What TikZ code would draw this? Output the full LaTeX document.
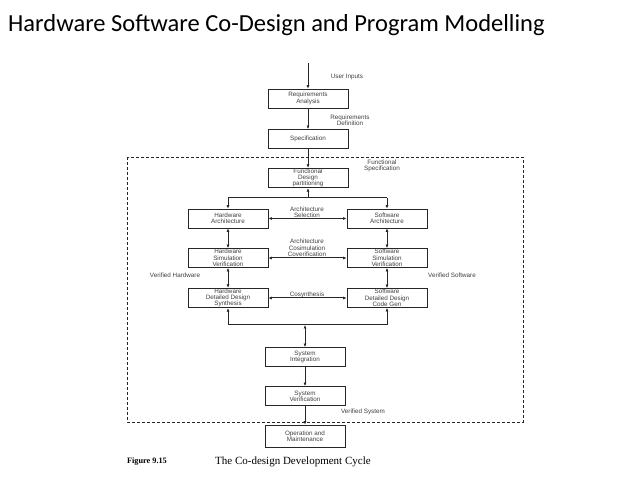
\documentclass[tikz,border=0pt]{standalone}
\usepackage{fontspec}
\setmainfont{Liberation Sans}
\newfontfamily\titlefont{Carlito}
\newfontfamily\capfont{Liberation Serif}
\usetikzlibrary{arrows.meta}
\begin{document}
\begin{tikzpicture}[x=1pt,y=-1pt,
  box/.style={draw=black!85,line width=0.8pt,minimum width=80pt,minimum height=19pt,inner sep=0.5pt,align=center,font=\fontsize{6.3}{6.3}\selectfont,text=black!75},
  lbl/.style={align=center,font=\fontsize{6.3}{6.3}\selectfont,text=black!75,inner sep=0pt},
  ln/.style={line width=1pt,draw=black!85},
  arr/.style={ln,-{Latex[length=3.5pt,width=3pt]}},
  darr/.style={ln,{Latex[length=3.5pt,width=3pt]}-{Latex[length=3.5pt,width=3pt]}}]
\useasboundingbox[fill=white] (0,0) rectangle (638,478);
\node[anchor=west,font=\titlefont\fontsize{24.5}{28}\selectfont,inner sep=0pt] (title) at (8,25) {Hardware Software Co-Design and Program Modelling};
\draw[ln,line width=0.8pt,dashed,dash pattern=on 3pt off 2pt] (127,157) rectangle (523,422);
\node[box] (ra) at (308,98.5) {Requirements\\Analysis};
\node[box] (sp) at (308,139) {Specification};
\node[box] (fd) at (308,178) {Functional\\Design\\partitioning};
\node[box] (ha) at (228,218.5) {Hardware\\Architecture};
\node[box] (sa) at (387,218.5) {Software\\Architecture};
\node[box] (hs) at (228,258) {Hardware\\Simulation\\Verification};
\node[box] (ss) at (387,258) {Software\\Simulation\\Verification};
\node[box] (hd) at (228,298) {Hardware\\Detailed Design\\Synthesis};
\node[box] (sd) at (387,298) {Software\\Detailed Design\\Code Gen};
\node[box] (si) at (305,357) {System\\Integration};
\node[box] (sv) at (305,396) {System\\Verification};
\node[box,minimum height=22pt] (om) at (305,436) {Operation and\\Maintenance};
\coordinate (top) at (308,63);
\coordinate (bl) at (228,198); \coordinate (bc) at (308,198); \coordinate (br) at (387,198);
\coordinate (ll) at (228,325); \coordinate (lc) at (305,325); \coordinate (lr) at (387,325);
\draw[arr] (top) -- (ra);
\draw[arr] (ra) -- (sp);
\draw[arr] (sp) -- (fd);
\draw[arr] (bc) -- (fd.south);
\draw[ln] (bl) -- (br);
\draw[arr] (bl) -- (ha); \draw[arr] (br) -- (sa);
\draw[darr] (ha) -- (sa);
\draw[darr] (ha) -- (hs); \draw[darr] (sa) -- (ss);
\draw[darr] (hs) -- (ss);
\draw[darr] (hs) -- (hd); \draw[darr] (ss) -- (sd);
\draw[darr] (hd) -- (sd);
\draw[ln] (ll) -- (lr);
\draw[arr] (ll) -- (hd.south); \draw[arr] (lr) -- (sd.south);
\draw[darr] (lc) -- (si);
\draw[arr] (si) -- (sv);
\draw[arr] (sv) -- (om);
\node[lbl] (l1) at (347,77) {User Inputs};
\node[lbl] (l2) at (350,120) {Requirements\\Definition};
\node[lbl] (l3) at (382,166) {Functional\\Specification};
\node[lbl] (l4) at (307,212) {Architecture\\Selection};
\node[lbl] (l5) at (307,248) {Architecture\\Cosimulation\\Coverification};
\node[lbl] (l6) at (175,275) {Verified Hardware};
\node[lbl] (l7) at (452,275) {Verified Software};
\node[lbl] (l8) at (307,295) {Cosynthesis};
\node[lbl] (l9) at (363,412) {Verified System};
\node[anchor=west,inner sep=0pt,font=\capfont\bfseries\fontsize{14}{16}\selectfont,scale=0.75,transform shape=false] (c1) at (127,462) {\fontsize{11}{12}\selectfont Figure 9.15};
\node[anchor=west,inner sep=0pt,font=\capfont\fontsize{11}{12}\selectfont] (c2) at (215,462) {The Co-design Development Cycle};
\end{tikzpicture}
\end{document}
